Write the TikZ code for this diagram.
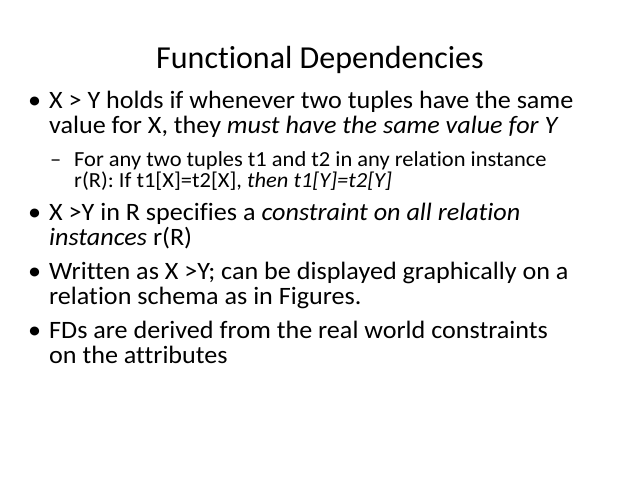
\documentclass[tikz,border=0pt]{standalone}
\usepackage{fontspec}
\setmainfont{Carlito}[RawFeature=-liga]
\newfontfamily\bodyfont{Carlito}[RawFeature=-liga,FakeStretch=1.045]
\begin{document}
\begin{tikzpicture}[x=1pt,y=-1pt,
  l1/.style={anchor=mid west,inner sep=0pt,font=\bodyfont\fontsize{25}{25}\selectfont},
  l2/.style={anchor=mid west,inner sep=0pt,font=\bodyfont\fontsize{21.5}{20}\selectfont},
  ttl/.style={anchor=mid,inner sep=0pt,font=\fontsize{32}{36}\selectfont}]
\useasboundingbox (0,0) rectangle (638,493);
\node[ttl] (t) at (320,66) {Functional Dependencies};
\node[l1] (b1) at (28,106) {•};
\node[l1] (a1) at (49,106) {X > Y holds if whenever two tuples have the same};
\node[l1] (a2) at (49,131) {value for X, they \textit{must have the same value for Y}};
\node[l2] (d1) at (50,164) {–};
\node[l2] (s1) at (74,164) {For any two tuples t1 and t2 in any relation instance};
\node[l2] (s2) at (74,185) {r(R): If t1[X]=t2[X], \textit{then t1[Y]=t2[Y]}};
\node[l1] (b2) at (28,218) {•};
\node[l1] (a3) at (49,218) {X >Y in R specifies a \textit{constraint on all relation}};
\node[l1] (a4) at (49,243) {\textit{instances} r(R)};
\node[l1] (b3) at (28,277) {•};
\node[l1] (a5) at (49,277) {Written as X >Y; can be displayed graphically on a};
\node[l1] (a6) at (49,302) {relation schema as in Figures.};
\node[l1] (b4) at (28,336) {•};
\node[l1] (a7) at (49,336) {FDs are derived from the real world constraints};
\node[l1] (a8) at (49,361) {on the attributes};
\end{tikzpicture}
\end{document}
